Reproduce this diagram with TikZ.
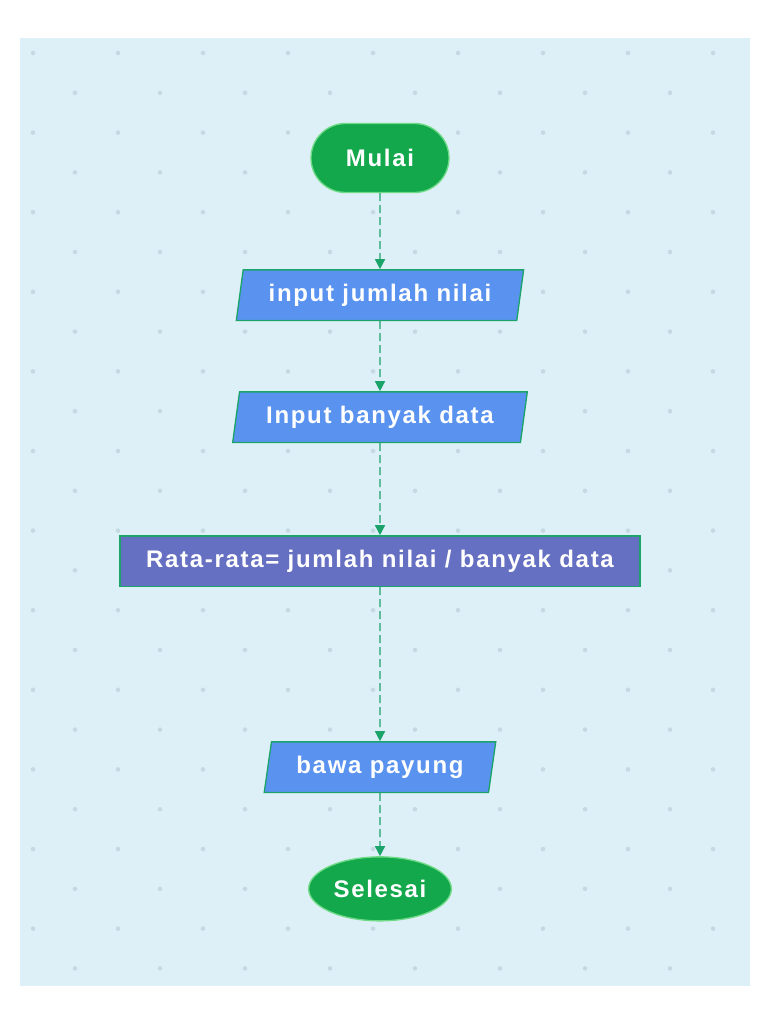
\documentclass[tikz,border=0pt]{standalone}
\usepackage{fontspec}
\setmainfont{Liberation Sans}
\usetikzlibrary{shapes.geometric,shapes.misc,arrows.meta,positioning}
\definecolor{panelbg}{HTML}{DDF0F7}
\definecolor{gridc}{HTML}{C4D9E2}
\definecolor{termgreen}{HTML}{12A84B}
\definecolor{iofill}{HTML}{5A92F0}
\definecolor{procfill}{HTML}{6670C2}
\definecolor{edgegreen}{HTML}{1CA36A}
\newcommand\drawdotrow[2]{%
    \foreach \dx in {0,...,#2} \fill[gridc] (#1+85*\dx,\dy) circle (1.7pt)}
\tikzset{
    terminal/.style={rounded rectangle,fill=termgreen,draw=termgreen!70!green!60!white,line width=1pt,
        minimum width=103.5pt,minimum height=51.75pt,inner sep=0pt},
    endterm/.style={ellipse,fill=termgreen,draw=termgreen!70!green!60!white,line width=1pt,
        minimum width=107pt,minimum height=48pt,inner sep=0pt},
    iobox/.style={trapezium,trapezium left angle=76,trapezium right angle=104,trapezium stretches=true,
        fill=iofill,draw=edgegreen,line width=1pt,minimum height=38pt,inner sep=0pt},
    procbox/.style={rectangle,fill=procfill,draw=edgegreen,line width=1pt,
        minimum width=390pt,minimum height=38pt,inner sep=0pt},
    flowtext/.style={text=white,font=\fontsize{18}{20}\selectfont\bfseries\addfontfeature{LetterSpace=7}},
    flowline/.style={draw=edgegreen,line width=1.1pt,dash pattern=on 6pt off 3pt,
        -{Triangle[length=7.5pt,width=7.5pt]}}
}
\begin{document}
\begin{tikzpicture}[x=0.75pt,y=-0.75pt]
    \useasboundingbox (0,0) rectangle (768,1024);
    \fill[panelbg] (20,38) rectangle (750,986);
    % dotted grid
    \foreach \row in {0,...,23}{
        \pgfmathsetmacro\dy{53+39.8*\row}
        \ifodd\row \drawdotrow{75}{7}; \else \drawdotrow{33}{8}; \fi
    }
    \node[terminal,flowtext] (mulai) at (380,158) {Mulai};
    \node[iobox,flowtext,minimum width=216pt,below=57pt of mulai] (jumlah) {input jumlah nilai};
    \node[iobox,flowtext,minimum width=221pt,below=52.5pt of jumlah] (banyak) {Input banyak data};
    \node[procbox,flowtext,below=69pt of banyak] (rata) {Rata-rata= jumlah nilai / banyak data};
    \node[iobox,flowtext,minimum width=174pt,below=115.5pt of rata] (payung) {bawa payung};
    \node[endterm,flowtext,below=47.25pt of payung] (selesai) {Selesai};
    \draw[flowline] (mulai) -- (jumlah);
    \draw[flowline] (jumlah) -- (banyak);
    \draw[flowline] (banyak) -- (rata);
    \draw[flowline] (rata) -- (payung);
    \draw[flowline] (payung) -- (selesai);
\end{tikzpicture}
\end{document}
